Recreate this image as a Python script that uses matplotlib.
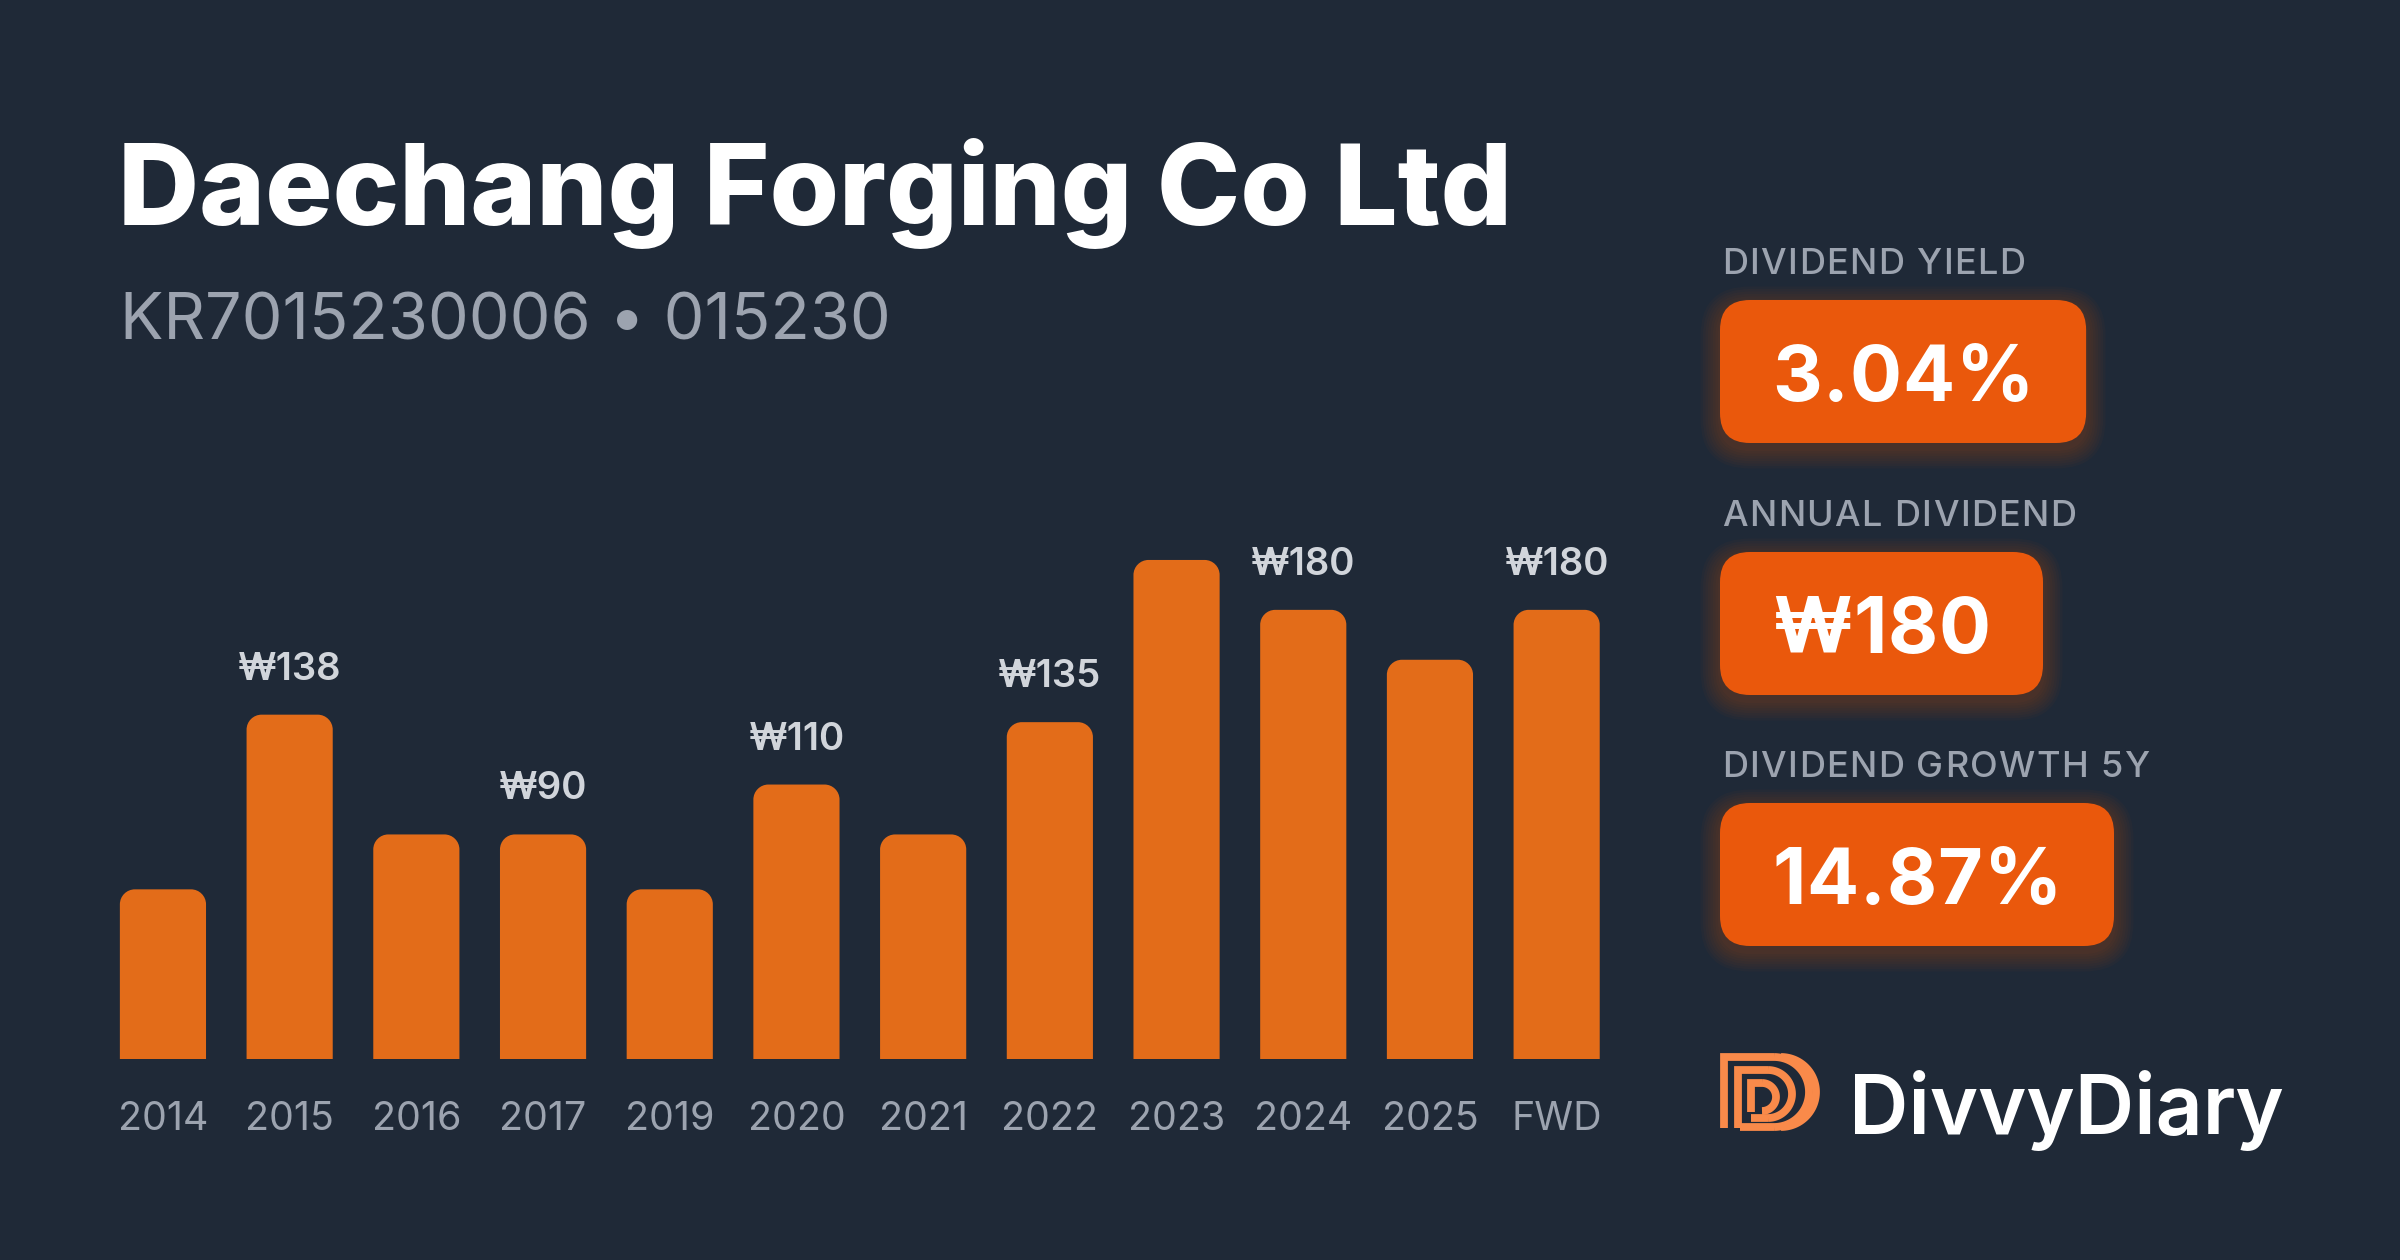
import matplotlib
matplotlib.use("Agg")
import matplotlib.pyplot as plt
from matplotlib.path import Path
from matplotlib.patches import PathPatch, FancyBboxPatch
import matplotlib.transforms as mtransforms
import numpy as np

# data
years = ['2014', '2015', '2016', '2017', '2019', '2020', '2021', '2022', '2023', '2024', '2025', 'FWD']
dividends = [68, 138, 90, 90, 68, 110, 90, 135, 200, 180, 160, 180]
labelled = [False, True, False, True, False, True, False, True, False, True, False, True]

title = 'Daechang Forging Co Ltd'
subtitle = 'KR7015230006 \u2022 015230'
stat_names = ['DIVIDEND YIELD', 'ANNUAL DIVIDEND', 'DIVIDEND GROWTH 5Y']
stat_values = ['3.04%', '\u20a9180', '14.87%']

BG = '#1f2937'
BAR = '#e36c19'
BOX = '#ea580c'
GREY = '#9ca3af'
LIGHT = '#d1d5db'
FONT = ['Inter', 'DejaVu Sans']

fig = plt.figure(figsize=(12, 6.3), dpi=200, facecolor=BG)
bg = fig.add_axes([0, 0, 1, 1])
bg.set_xlim(0, 2400)
bg.set_ylim(1260, 0)
bg.axis('off')
bg.set_facecolor(BG)

# bar chart axes
ax = fig.add_axes([0.0415, 0.1595, 0.6335, 0.4357])
ax.set_xlim(-0.5, len(years) - 0.5)
ax.set_ylim(0, 220)
ax.axis('off')

bars = ax.bar(range(len(years)), dividends, width=0.68, color=BAR)

# round the top corners (radius in pixels)
px_x = 0.6335 * 2400 / len(years)
px_y = 0.4357 * 1260 / 220
r = 15
rx, ry = r / px_x, r / px_y
k = 0.5523
for b in bars:
    x0, w, h = b.get_x(), b.get_width(), b.get_height()
    x1 = x0 + w
    verts = [(x0, 0), (x0, h - ry), (x0, h - ry + k * ry), (x0 + rx - k * rx, h), (x0 + rx, h),
             (x1 - rx, h), (x1 - rx + k * rx, h), (x1, h - ry + k * ry), (x1, h - ry),
             (x1, 0), (x0, 0)]
    codes = [Path.MOVETO, Path.LINETO, Path.CURVE4, Path.CURVE4, Path.CURVE4,
             Path.LINETO, Path.CURVE4, Path.CURVE4, Path.CURVE4,
             Path.LINETO, Path.CLOSEPOLY]
    ax.add_patch(PathPatch(Path(verts, codes), facecolor=BAR, edgecolor='none'))
    b.set_visible(False)

# year labels and value labels
xt = mtransforms.blended_transform_factory(ax.transData, bg.transData)
for i, (yr, v, lab) in enumerate(zip(years, dividends, labelled)):
    ax.text(i, 1130, yr, transform=xt, ha='center', va='baseline',
            fontsize=14.2, color=GREY, family=FONT)
    if lab:
        ax.annotate('\u20a9%d' % v, (i, v), xytext=(0, 12.6), textcoords='offset points',
                    ha='center', va='baseline', fontsize=13.8, color=LIGHT,
                    family=FONT, weight='semibold')

# title
bg.text(118, 225, title, fontsize=40.4, weight='heavy', color='white', family=FONT, va='baseline')
bg.text(120, 340, subtitle, fontsize=23.3, color=GREY, family=FONT, va='baseline')

renderer = fig.canvas.get_renderer()


def tracked(x, y, s, track, **kw):
    # draw text char by char with extra letter spacing (pixels)
    def width(txt):
        t = bg.text(0, 0, txt, **kw)
        w = t.get_window_extent(renderer).width
        t.remove()
        return w
    right = x
    for i, ch in enumerate(s):
        if ch == ' ':
            continue
        left = x + width(s[:i + 1]) - width(ch) + i * track
        bg.text(left, y, ch, va='baseline', **kw)
        right = left + width(ch)
    return right


# stats on the right
label_base = [274, 526, 777]
box_top = [300, 552, 803]
box_h = 143
for name, val, yb, yt in zip(stat_names, stat_values, label_base, box_top):
    tracked(1722, yb, name, 1.4, fontsize=13, color=GREY, family=FONT, weight='medium')
    # measure value text
    t = bg.text(0, 0, val, fontsize=27.8, weight='bold', family=FONT)
    tw = t.get_window_extent(renderer).width + 1.0 * (len(val) - 1)
    t.remove()
    bw = tw + 104
    for j in range(8):
        g = 2 + j * 2.5
        bg.add_patch(FancyBboxPatch((1720 - g, yt - g + 6), bw + 2 * g, box_h + 2 * g,
                                    boxstyle='round,pad=0,rounding_size=%f' % (30 + g),
                                    facecolor=BOX, edgecolor='none', alpha=0.03))
    bg.add_patch(FancyBboxPatch((1720, yt), bw, box_h, boxstyle='round,pad=0,rounding_size=30',
                                facecolor=BOX, edgecolor='none'))
    tracked(1772, yt + 101, val, 1.0, fontsize=27.8, weight='bold', color='white', family=FONT)

# logo icon
ICON = '#f98a4a'
lw = 2.8
icon_paths = [
    [(1724, 1128), (1724, 1057), (1774, 1057)],
    [(1738, 1128), (1738, 1070), (1768, 1070)],
    [(1751, 1112), (1751, 1083), (1762, 1083)],
]
for pts in icon_paths:
    xs, ys = zip(*pts)
    bg.plot(xs, ys, color=ICON, lw=lw, solid_capstyle='butt', solid_joinstyle='miter')
th = np.linspace(-np.pi / 2, np.pi / 2, 60)
for cx, cy, rr, x_end in [(1774, 1092, 35, 1740), (1781, 1092, 35, None),
                          (1768, 1094, 24, 1751), (1762, 1097, 14, 1762)]:
    xs = cx + rr * np.cos(th)
    ys = cy + rr * np.sin(th)
    bg.plot(xs, ys, color=ICON, lw=lw, solid_capstyle='butt')
    if x_end is not None:
        bg.plot([cx, x_end], [cy + rr, cy + rr], color=ICON, lw=lw, solid_capstyle='butt')

bg.text(1849, 1134, 'DivvyDiary', fontsize=29.6, weight='semibold', color='white',
        family=FONT, va='baseline')

fig.savefig('out.png', dpi=200, facecolor=BG)
